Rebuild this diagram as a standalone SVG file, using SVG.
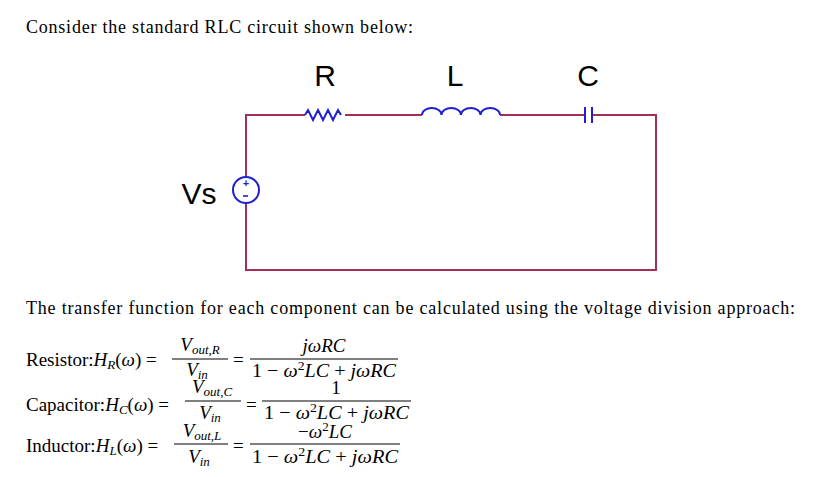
<svg xmlns="http://www.w3.org/2000/svg" width="819" height="477" viewBox="0 0 819 477">
<style>
.t{font-family:"Liberation Serif",serif;font-size:19px;fill:#000}
.p{font-size:18px}
.i{font-style:italic}
.s{font-size:13px}
.lab{font-family:"Liberation Sans",Arial,sans-serif;font-size:30px;fill:#000}
.w{stroke:#a0305a;stroke-width:2;fill:none}
.c{stroke:#2020d0;stroke-width:2;fill:none}
.bar{stroke:#000;stroke-width:1}
</style>
<rect width="819" height="477" fill="#fff"/>
<text class="t p" x="26" y="33" textLength="387" lengthAdjust="spacing">Consider the standard RLC circuit shown below:</text>
<g id="connectors">
<path class="w" d="M246 177 V115 H305 M345 115 H422 M500 115 H585 M592 115 H656 V270 H246 V203"/>
</g>
<g id="R"><text class="lab" x="325" y="86" text-anchor="middle">R</text>
<path class="c" d="M305 115 l3 -5 l5 10 l5 -10 l5 10 l5 -10 l5 10 l5 -10 l3 5"/></g>
<g id="L"><text class="lab" x="455" y="86" text-anchor="middle">L</text>
<path class="c" d="M422 115 a9.75 7 0 0 1 19.5 0 a9.75 7 0 0 1 19.5 0 a9.75 7 0 0 1 19.5 0 a9.75 7 0 0 1 19.5 0"/></g>
<g id="C"><text class="lab" x="588" y="86" text-anchor="middle">C</text>
<path class="c" d="M585 107 V123 M592 107 V123"/></g>
<g id="Vs"><text class="lab" x="199" y="204" text-anchor="middle" font-size="31">Vs</text>
<circle class="c" cx="246" cy="190" r="13"/>
<text x="246" y="187" text-anchor="middle" font-family="Liberation Sans,sans-serif" font-size="11" font-weight="bold" fill="#2020d0">+</text>
<path d="M243 196 h5" stroke="#2020d0" stroke-width="1.6"/></g>
<text class="t p" x="26" y="314" textLength="769" lengthAdjust="spacing">The transfer function for each component can be calculated using the voltage division approach:</text>
<g id="eq">
<text class="t" x="26" y="366">Resistor:<tspan class="i">H</tspan><tspan class="i s" dy="3">R</tspan><tspan dy="-3">(</tspan><tspan class="i">ω</tspan>) =</text>
<text class="t i" x="200" y="351" text-anchor="middle">V<tspan class="s" dy="3">out,R</tspan></text>
<line class="bar" x1="172" y1="359" x2="228" y2="359"/>
<text class="t i" x="197" y="376" text-anchor="middle">V<tspan class="s" dy="3">in</tspan></text>
<text class="t" x="233" y="366">=</text>
<text class="t i" x="324" y="352" text-anchor="middle">jωRC</text>
<line class="bar" x1="250" y1="359" x2="398" y2="359"/>
<text class="t" x="252" y="377" textLength="144" lengthAdjust="spacingAndGlyphs">1 − <tspan class="i">ω</tspan><tspan class="s" dy="-7">2</tspan><tspan class="i" dy="7">LC</tspan> + <tspan class="i">jωRC</tspan></text>

<text class="t" x="26" y="411">Capacitor:<tspan class="i">H</tspan><tspan class="i s" dy="3">C</tspan><tspan dy="-3">(</tspan><tspan class="i">ω</tspan>) =</text>
<text class="t i" x="212" y="393" text-anchor="middle">V<tspan class="s" dy="3">out,C</tspan></text>
<line class="bar" x1="185" y1="401" x2="241" y2="401"/>
<text class="t i" x="210" y="419" text-anchor="middle">V<tspan class="s" dy="3">in</tspan></text>
<text class="t" x="246" y="411">=</text>
<text class="t" x="336" y="394" text-anchor="middle">1</text>
<line class="bar" x1="262" y1="401" x2="411" y2="401"/>
<text class="t" x="264" y="419" textLength="145" lengthAdjust="spacingAndGlyphs">1 − <tspan class="i">ω</tspan><tspan class="s" dy="-7">2</tspan><tspan class="i" dy="7">LC</tspan> + <tspan class="i">jωRC</tspan></text>

<text class="t" x="26" y="452">Inductor:<tspan class="i">H</tspan><tspan class="i s" dy="3">L</tspan><tspan dy="-3">(</tspan><tspan class="i">ω</tspan>) =</text>
<text class="t i" x="202" y="437" text-anchor="middle">V<tspan class="s" dy="3">out,L</tspan></text>
<line class="bar" x1="174" y1="444" x2="228" y2="444"/>
<text class="t i" x="199" y="463" text-anchor="middle">V<tspan class="s" dy="3">in</tspan></text>
<text class="t" x="233" y="452">=</text>
<text class="t" x="325" y="438" text-anchor="middle">−<tspan class="i">ω</tspan><tspan class="s" dy="-7">2</tspan><tspan class="i" dy="7">LC</tspan></text>
<line class="bar" x1="250" y1="444" x2="400" y2="444"/>
<text class="t" x="252" y="463" textLength="146" lengthAdjust="spacingAndGlyphs">1 − <tspan class="i">ω</tspan><tspan class="s" dy="-7">2</tspan><tspan class="i" dy="7">LC</tspan> + <tspan class="i">jωRC</tspan></text>
</g>
</svg>
